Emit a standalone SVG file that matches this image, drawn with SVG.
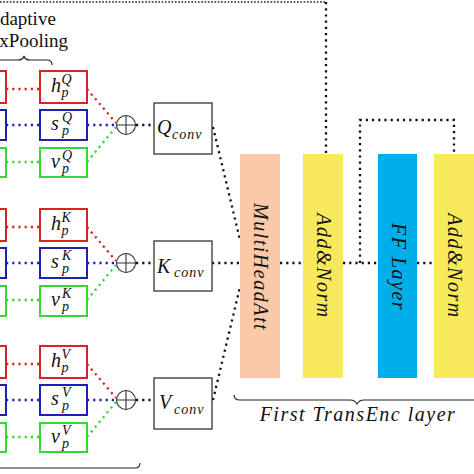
<svg xmlns="http://www.w3.org/2000/svg" width="474" height="474" viewBox="0 0 474 474">
<style>
.bx{fill:#fff;stroke-width:2}
.r{stroke:#d92323}.b{stroke:#1c22b0}.g{stroke:#33d933}
.dot{fill:none;stroke-width:2.3;stroke-dasharray:2.2 4}
.dk{stroke:#111}
.cv{fill:#fff;stroke:#333;stroke-width:1.3}
.pl{fill:#fff;stroke:#333;stroke-width:1.1}
text{font-family:'Liberation Serif','Times New Roman',Times,serif}
.m{font-style:italic;fill:#111}
.mn{font-size:20px}.sc{font-size:14px}
.rt{font-style:italic;font-size:20px;letter-spacing:1.5px;fill:#111;text-anchor:middle}
.up{font-size:19px;fill:#111;text-anchor:middle}
.br{fill:none;stroke:#222;stroke-width:1.1}
</style>
<g id="connectors">
<line class="dot r" x1="6" y1="89" x2="40" y2="89"/>
<line class="dot b" x1="6" y1="125" x2="40" y2="125"/>
<line class="dot g" x1="6" y1="162" x2="40" y2="162"/>
<line class="dot r" x1="87" y1="89" x2="116" y2="123"/>
<line class="dot b" x1="87" y1="125" x2="116" y2="125"/>
<line class="dot g" x1="87" y1="162" x2="116" y2="127"/>
<line class="dot dk" x1="136" y1="125" x2="154" y2="125"/>
<line class="dot r" x1="6" y1="227" x2="40" y2="227"/>
<line class="dot b" x1="6" y1="263" x2="40" y2="263"/>
<line class="dot g" x1="6" y1="300" x2="40" y2="300"/>
<line class="dot r" x1="87" y1="227" x2="116" y2="261"/>
<line class="dot b" x1="87" y1="263" x2="116" y2="263"/>
<line class="dot g" x1="87" y1="300" x2="116" y2="265"/>
<line class="dot dk" x1="136" y1="263" x2="154" y2="263"/>
<line class="dot r" x1="6" y1="364" x2="40" y2="364"/>
<line class="dot b" x1="6" y1="400" x2="40" y2="400"/>
<line class="dot g" x1="6" y1="437" x2="40" y2="437"/>
<line class="dot r" x1="87" y1="364" x2="116" y2="398"/>
<line class="dot b" x1="87" y1="400" x2="116" y2="400"/>
<line class="dot g" x1="87" y1="437" x2="116" y2="402"/>
<line class="dot dk" x1="136" y1="400" x2="154" y2="400"/>
<line class="dot dk" x1="213" y1="127" x2="240" y2="240"/>
<line class="dot dk" x1="212" y1="263" x2="240" y2="263"/>
<line class="dot dk" x1="213" y1="400" x2="240" y2="287"/>
<line class="dot dk" x1="280" y1="263" x2="303" y2="263"/>
<line class="dot dk" x1="343" y1="263" x2="378" y2="263"/>
<line class="dot dk" x1="417" y1="263" x2="434" y2="263"/>
<polyline class="dot dk" points="360,263 360,120 454,120 454,154"/>
<line x1="0" y1="2" x2="326" y2="2" fill="none" stroke="#555" stroke-width="1.8" stroke-dasharray="1.6 1.7"/>
<line class="dot dk" x1="326" y1="2" x2="326" y2="154"/>
</g>
<g id="left-boxes">
<rect class="bx r" x="-4" y="71" width="10" height="32"/>
<rect class="bx b" x="-4" y="110" width="10" height="30"/>
<rect class="bx g" x="-4" y="148" width="10" height="29"/>
<rect class="bx r" x="-4" y="209" width="10" height="32"/>
<rect class="bx b" x="-4" y="248" width="10" height="30"/>
<rect class="bx g" x="-4" y="286" width="10" height="30"/>
<rect class="bx r" x="-4" y="346" width="10" height="32"/>
<rect class="bx b" x="-4" y="385" width="10" height="30"/>
<rect class="bx g" x="-4" y="423" width="10" height="29"/>
</g>
<g id="hpQ"><rect class="bx r" x="40" y="71" width="47" height="32"/><text class="m mn" x="51" y="92">h</text><text class="m sc" x="61.5" y="84">Q</text><text class="m sc" x="61.5" y="97">p</text></g>
<g id="spQ"><rect class="bx b" x="40" y="110" width="47" height="30"/><text class="m mn" x="51" y="130">s</text><text class="m sc" x="62" y="122">Q</text><text class="m sc" x="62" y="135">p</text></g>
<g id="vpQ"><rect class="bx g" x="40" y="148" width="47" height="29"/><text class="m mn" x="51" y="168">v</text><text class="m sc" x="62" y="160">Q</text><text class="m sc" x="62" y="173">p</text></g>
<g id="hpK"><rect class="bx r" x="40" y="209" width="47" height="32"/><text class="m mn" x="51" y="230">h</text><text class="m sc" x="61.5" y="222">K</text><text class="m sc" x="61.5" y="235">p</text></g>
<g id="spK"><rect class="bx b" x="40" y="248" width="47" height="30"/><text class="m mn" x="51" y="268">s</text><text class="m sc" x="62" y="260">K</text><text class="m sc" x="62" y="273">p</text></g>
<g id="vpK"><rect class="bx g" x="40" y="286" width="47" height="30"/><text class="m mn" x="51" y="306">v</text><text class="m sc" x="62" y="298">K</text><text class="m sc" x="62" y="311">p</text></g>
<g id="hpV"><rect class="bx r" x="40" y="346" width="47" height="32"/><text class="m mn" x="51" y="367">h</text><text class="m sc" x="61.5" y="359">V</text><text class="m sc" x="61.5" y="372">p</text></g>
<g id="spV"><rect class="bx b" x="40" y="385" width="47" height="30"/><text class="m mn" x="51" y="405">s</text><text class="m sc" x="62" y="397">V</text><text class="m sc" x="62" y="410">p</text></g>
<g id="vpV"><rect class="bx g" x="40" y="423" width="47" height="29"/><text class="m mn" x="51" y="443">v</text><text class="m sc" x="62" y="435">V</text><text class="m sc" x="62" y="448">p</text></g>
<g id="plusQ"><circle class="pl" cx="126" cy="125" r="9.5"/><path class="pl" d="M116.5,125H135.5M126,115.5V134.5"/></g>
<g id="plusK"><circle class="pl" cx="126" cy="263" r="9.5"/><path class="pl" d="M116.5,263H135.5M126,253.5V272.5"/></g>
<g id="plusV"><circle class="pl" cx="126" cy="400" r="9.5"/><path class="pl" d="M116.5,400H135.5M126,390.5V409.5"/></g>
<g id="Qconv"><rect class="cv" x="154" y="103" width="58" height="51"/><text class="m mn" x="157" y="134">Q</text><text class="m sc" x="172" y="139" style="letter-spacing:1px">conv</text></g>
<g id="Kconv"><rect class="cv" x="154" y="241" width="58" height="50"/><text class="m mn" x="157" y="273">K</text><text class="m sc" x="174" y="277" style="letter-spacing:1px">conv</text></g>
<g id="Vconv"><rect class="cv" x="154" y="378" width="58" height="51"/><text class="m mn" x="159" y="409">V</text><text class="m sc" x="174" y="414" style="letter-spacing:1px">conv</text></g>
<g id="MultiHeadAtt"><rect x="240" y="154" width="40" height="224" fill="#f9c9a9"/><text class="rt" transform="translate(260,267) rotate(90)" y="6">MultiHeadAtt</text></g>
<g id="AddNorm1"><rect x="303" y="154" width="40" height="224" fill="#f8e85c"/><text class="rt" transform="translate(323,266) rotate(90)" y="6">Add&amp;Norm</text></g>
<g id="FFLayer"><rect x="378" y="154" width="39" height="224" fill="#00aeea"/><text class="rt" transform="translate(397.5,267) rotate(90)" y="6">FF Layer</text></g>
<g id="AddNorm2"><rect x="434" y="154" width="44" height="224" fill="#f8e85c"/><text class="rt" transform="translate(454,266) rotate(90)" y="6">Add&amp;Norm</text></g>
<g id="labels">
<text class="up" x="21" y="25">Adaptive</text>
<text class="up" x="21" y="47">MaxPooling</text>
<path class="br" d="M-5,60H18q5,0 6,-4q1,4 6,4H47q5,0 5,5"/>
<path class="br" d="M-5,468H135q5,0 5,-5"/>
<path class="br" d="M234,395q0,5 6,5H350q5,0 7,4q2,-4 7,-4H480"/>
<text class="rt" x="358" y="421">First TransEnc layer</text>
</g>
</svg>
